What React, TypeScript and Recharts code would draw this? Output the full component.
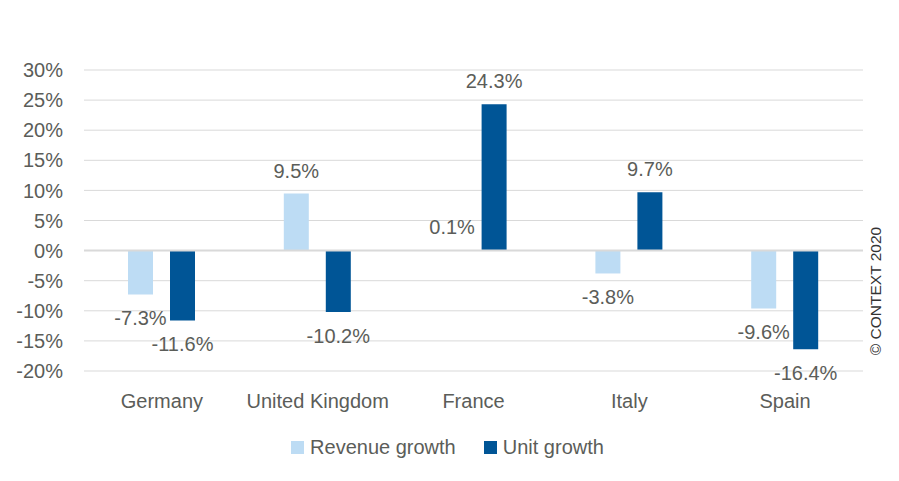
import React from 'react';
import { BarChart, Bar, XAxis, YAxis, CartesianGrid, Legend, LabelList, ReferenceLine } from 'recharts';

const categories = ['Germany', 'United Kingdom', 'France', 'Italy', 'Spain'];
const revenueGrowth = [-7.3, 9.5, 0.1, -3.8, -9.6];
const unitGrowth = [-11.6, -10.2, 24.3, 9.7, -16.4];
const yTicks = [-20, -15, -10, -5, 0, 5, 10, 15, 20, 25, 30];

const data = categories.map((c, i) => ({ name: c, revenue: revenueGrowth[i], unit: unitGrowth[i] }));

const FONT = '"Liberation Sans", Arial, sans-serif';
const TEXT = '#5B5D59';
const LIGHT = '#BDDCF4';
const DARK = '#005596';

const ValueLabel = (props: any) => {
  const { x, y, width, height, value } = props;
  const top = Math.min(y, y + height);
  const bottom = Math.max(y, y + height);
  const cx = x + width / 2;
  const cy = value >= 0 ? top - 23 : bottom + 23.5;
  return (
    <text x={cx} y={cy} dy="0.355em" textAnchor="middle" fill={TEXT} fontSize={20} fontFamily={FONT}>
      {value.toFixed(1)}%
    </text>
  );
};

const XTick = (props: any) => {
  const { x, y, payload } = props;
  return (
    <text x={x} y={y + 37} textAnchor="middle" fill={TEXT} fontSize={20} fontFamily={FONT}>
      {payload.value}
    </text>
  );
};

const LegendContent = () => (
  <div style={{ display: 'flex', justifyContent: 'center', alignItems: 'center', fontFamily: FONT, fontSize: 20, color: TEXT, paddingRight: 4 }}>
    <div style={{ display: 'flex', alignItems: 'center', marginRight: 28 }}>
      <span style={{ width: 13, height: 13, background: LIGHT, display: 'inline-block', marginRight: 6 }} />
      <span>Revenue growth</span>
    </div>
    <div style={{ display: 'flex', alignItems: 'center' }}>
      <span style={{ width: 13, height: 13, background: DARK, display: 'inline-block', marginRight: 6 }} />
      <span>Unit growth</span>
    </div>
  </div>
);

export default function App() {
  return (
    <div style={{ position: 'absolute', left: 0, top: 0, width: 899, height: 481, background: '#fff' }}>
      <BarChart
        width={899}
        height={481}
        data={data}
        margin={{ top: 70, right: 36, bottom: 80, left: 0 }}
        barSize={25}
        barGap={17}
      >
        <CartesianGrid vertical={false} stroke="#D9D9D9" strokeWidth={1} />
        <XAxis dataKey="name" height={30} axisLine={false} tickLine={false} tickSize={0} tickMargin={0} tick={<XTick />} interval={0} />
        <YAxis
          width={84}
          domain={[-20, 30]}
          ticks={yTicks}
          axisLine={false}
          tickLine={false}
          tickSize={0}
          tickMargin={21}
          tickFormatter={(v: number) => `${v}%`}
          tick={{ fill: TEXT, fontSize: 20, fontFamily: FONT }}
          interval={0}
        />
        <ReferenceLine y={0} stroke="#D9D9D9" strokeWidth={2} />
        <Legend
          layout="horizontal"
          verticalAlign="middle"
          align="center"
          content={<LegendContent />}
          wrapperStyle={{ top: 436, left: 0, width: 899 }}
        />
        <Bar dataKey="revenue" name="Revenue growth" fill={LIGHT} isAnimationActive={false}>
          <LabelList dataKey="revenue" content={<ValueLabel />} />
        </Bar>
        <Bar dataKey="unit" name="Unit growth" fill={DARK} isAnimationActive={false}>
          <LabelList dataKey="unit" content={<ValueLabel />} />
        </Bar>
      </BarChart>
      <div
        style={{
          position: 'absolute',
          left: 876,
          top: 291,
          transform: 'translate(-50%, -50%) rotate(-90deg)',
          whiteSpace: 'nowrap',
          fontFamily: FONT,
          fontSize: 15.5,
          color: '#333',
        }}
      >
        © CONTEXT 2020
      </div>
    </div>
  );
}
